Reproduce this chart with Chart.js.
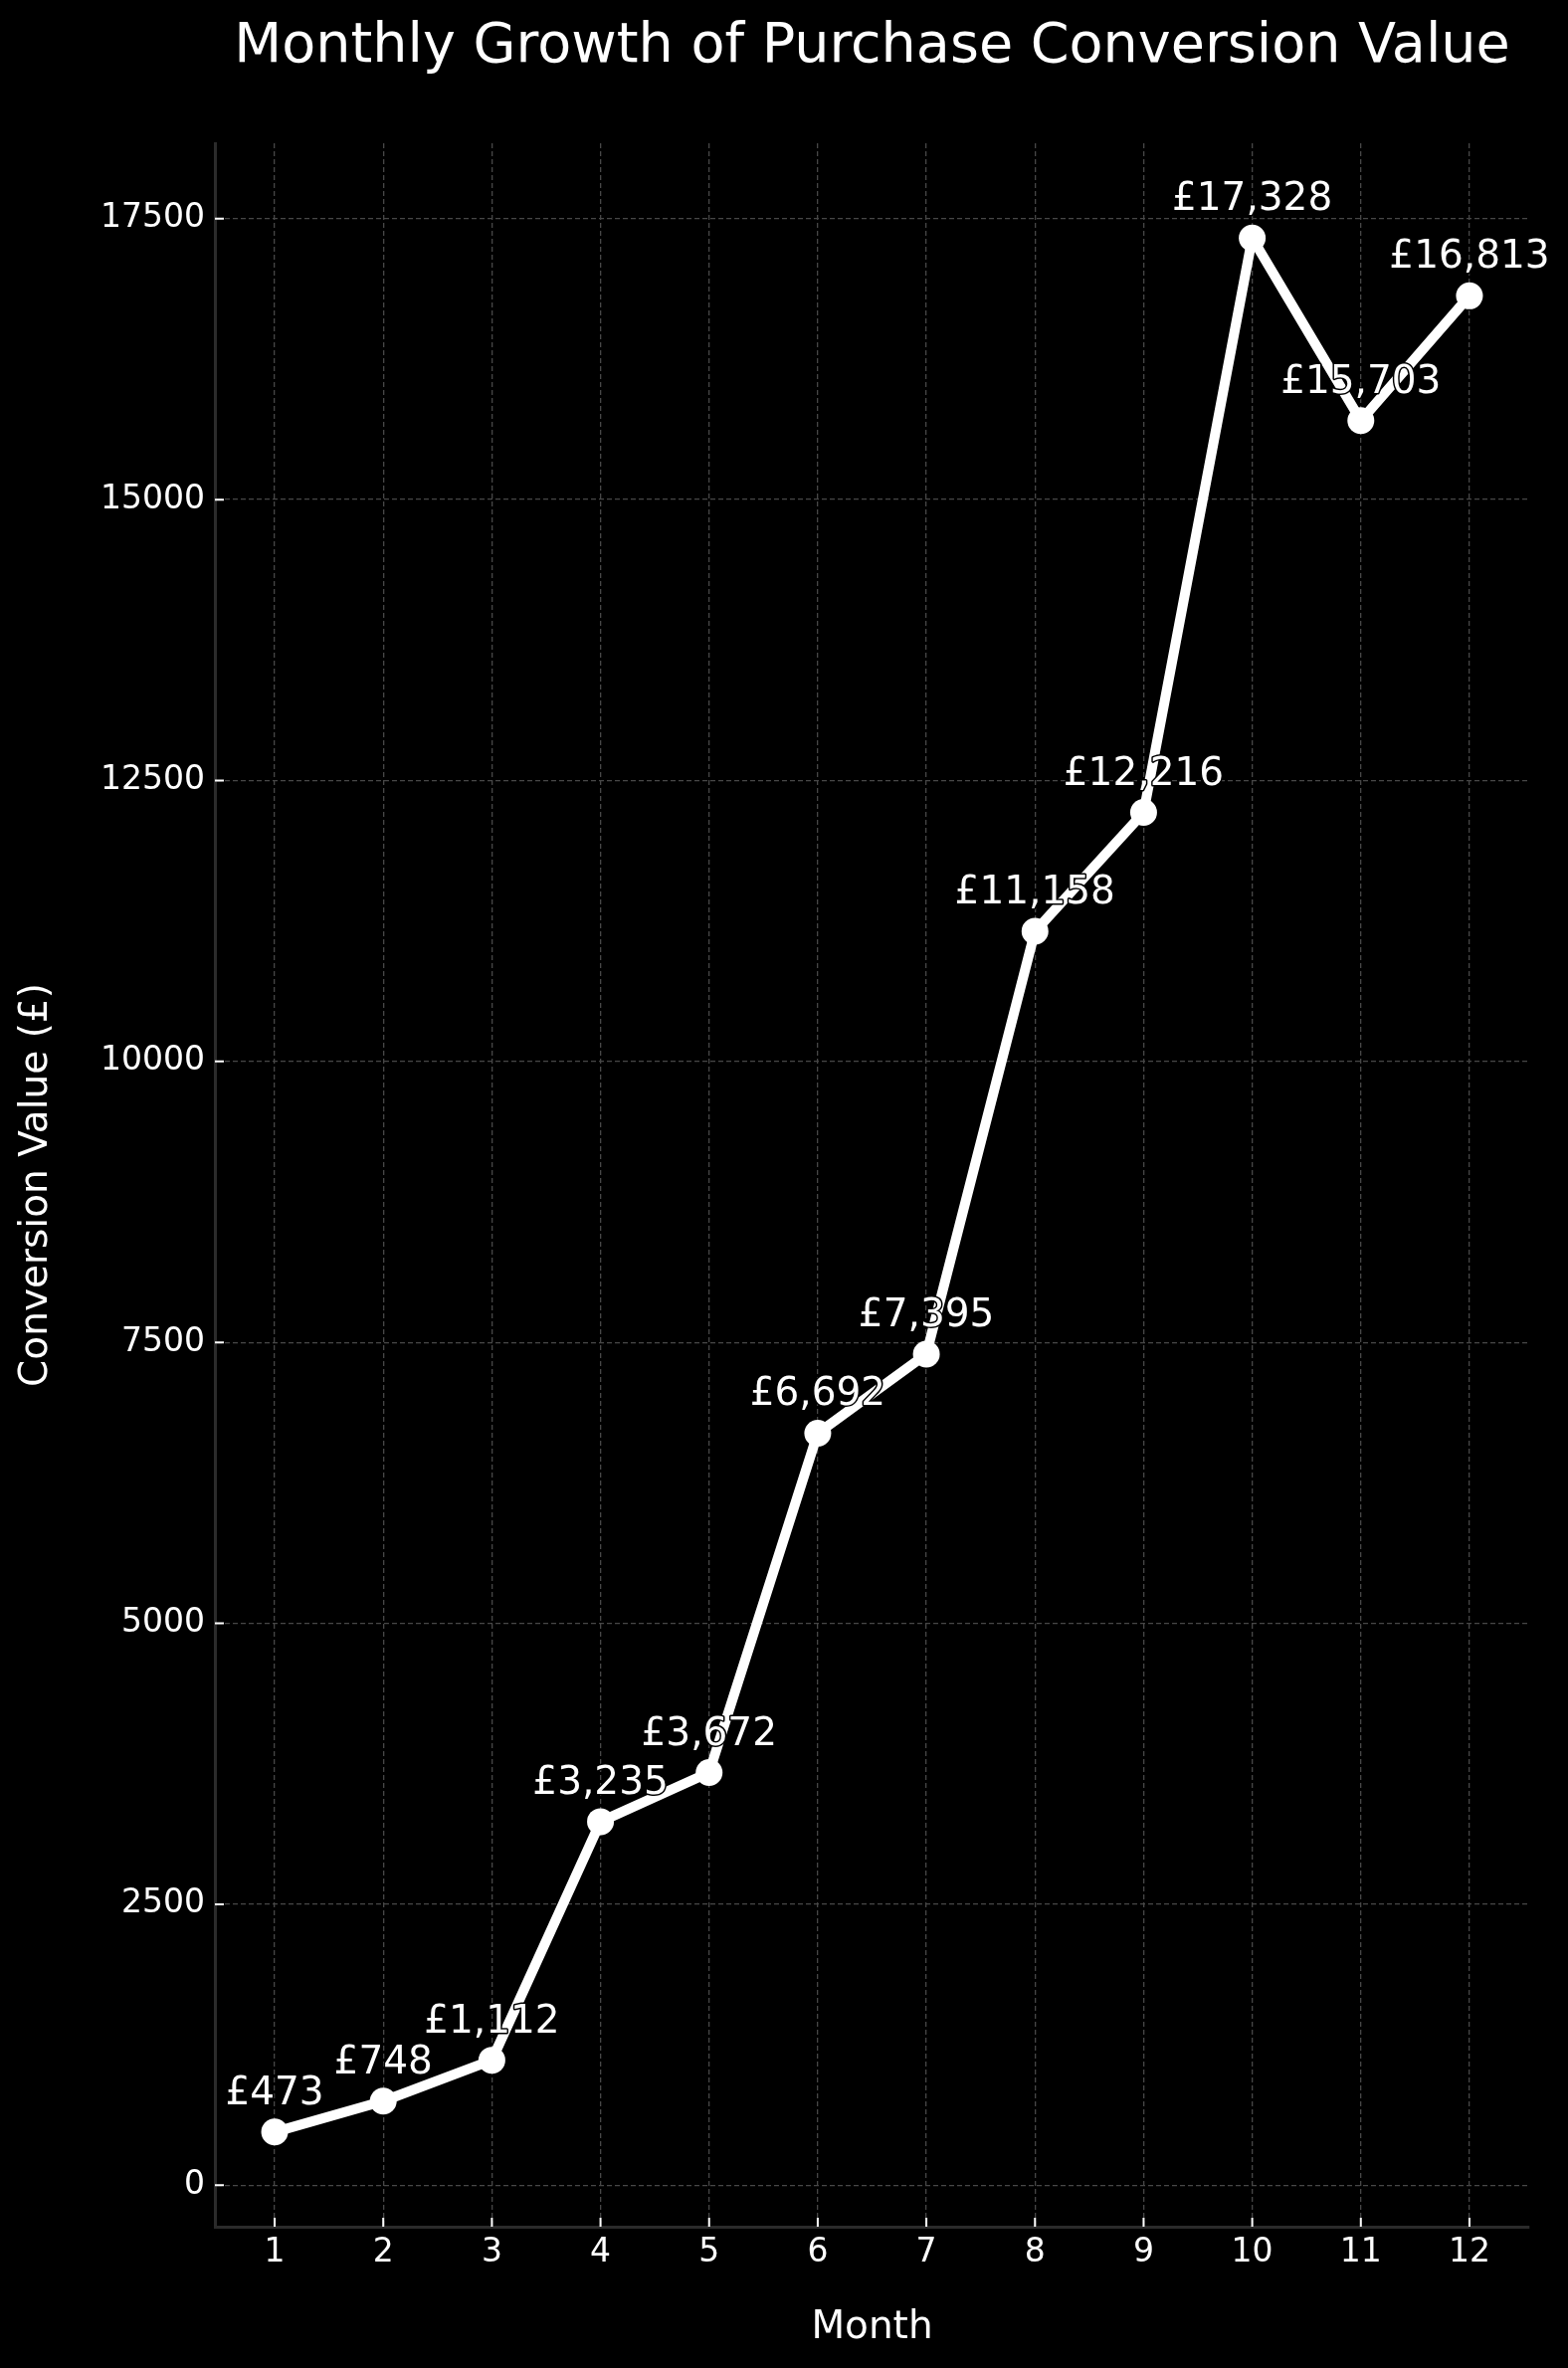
<!DOCTYPE html>
<html>
<head>
<meta charset="utf-8">
<title>Monthly Growth of Purchase Conversion Value</title>
<script src="https://cdn.jsdelivr.net/npm/chart.js@4.4.1/dist/chart.umd.min.js"></script>
<style>
  html, body { margin: 0; padding: 0; background: #000; overflow: hidden; }
  #chart { display: block; }
</style>
</head>
<body>
<canvas id="chart" width="1576" height="2380"></canvas>
<script>
// data
const months = [1, 2, 3, 4, 5, 6, 7, 8, 9, 10, 11, 12];
const conversionValues = [473, 748, 1112, 3235, 3672, 6692, 7395, 11158, 12216, 17328, 15703, 16813];
const yTicks = [0, 2500, 5000, 7500, 10000, 12500, 15000, 17500];

const FONT = "'DejaVu Sans', sans-serif";

// padding around data like matplotlib's 5% margins
const yPad = (Math.max(...conversionValues) - Math.min(...conversionValues)) * 0.05;
const xPad = (months[months.length - 1] - months[0]) * 0.05;

// inward tick marks (matplotlib direction='in')
const innerTicks = {
  id: "innerTicks",
  beforeDatasetsDraw(chart) {
    const { ctx, chartArea, scales } = chart;
    ctx.save();
    ctx.strokeStyle = "#ffffff";
    ctx.lineWidth = 2;
    ctx.beginPath();
    months.forEach((m) => {
      const x = scales.x.getPixelForValue(m);
      ctx.moveTo(x, chartArea.bottom);
      ctx.lineTo(x, chartArea.bottom - 9);
    });
    yTicks.forEach((v) => {
      const y = scales.y.getPixelForValue(v);
      ctx.moveTo(chartArea.left, y);
      ctx.lineTo(chartArea.left + 9, y);
    });
    ctx.stroke();
    ctx.restore();
  },
};

// £ labels above each point
const valueLabels = {
  id: "valueLabels",
  afterDatasetsDraw(chart) {
    const { ctx } = chart;
    const meta = chart.getDatasetMeta(0);
    ctx.save();
    ctx.font = "39px " + FONT;
    ctx.textAlign = "center";
    ctx.textBaseline = "alphabetic";
    ctx.lineJoin = "round";
    meta.data.forEach((pt, i) => {
      const txt = "£" + conversionValues[i].toLocaleString("en-GB");
      ctx.strokeStyle = "#000000";
      ctx.lineWidth = 3;
      ctx.strokeText(txt, pt.x, pt.y - 28);
      ctx.fillStyle = "#ffffff";
      ctx.fillText(txt, pt.x, pt.y - 28);
    });
    ctx.restore();
  },
};

const ctx = document.getElementById("chart").getContext("2d");
const chart = new Chart(ctx, {
  type: "line",
  data: {
    datasets: [
      {
        label: "Conversion Value",
        data: months.map((m, i) => ({ x: m, y: conversionValues[i] })),
        borderColor: "#ffffff",
        backgroundColor: "#ffffff",
        borderWidth: 10,
        borderJoinStyle: "round",
        pointRadius: 13.5,
        pointHoverRadius: 13.5,
        pointBorderWidth: 0,
        pointBackgroundColor: "#ffffff",
        tension: 0,
      },
    ],
  },
  options: {
    responsive: false,
    animation: false,
    devicePixelRatio: 1,
    layout: { padding: { left: 0, right: 39, top: 0, bottom: 0 } },
    plugins: {
      legend: { display: false },
      tooltip: { enabled: false },
      title: {
        display: true,
        text: "Monthly Growth of Purchase Conversion Value",
        color: "#ffffff",
        fullSize: false,
        font: { family: FONT, size: 55.6, weight: "normal", lineHeight: 1.2 },
        padding: { top: 14, bottom: 63.3 },
      },
    },
    scales: {
      x: {
        type: "linear",
        min: months[0] - xPad,
        max: months[months.length - 1] + xPad,
        afterBuildTicks: (scale) => {
          scale.ticks = months.map((v) => ({ value: v }));
        },
        afterFit: (scale) => {
          scale.height = 142;
        },
        ticks: {
          color: "#ffffff",
          font: { family: FONT, size: 33 },
          padding: 7,
          maxRotation: 0,
          autoSkip: false,
          callback: (v) => String(v),
        },
        grid: {
          color: "#474747",
          lineWidth: 1.3,
          drawTicks: false,
        },
        border: { display: true, color: "#2b2b2b", width: 3, dash: [5, 3] },
        title: {
          display: true,
          text: "Month",
          color: "#ffffff",
          font: { family: FONT, size: 39 },
          padding: { top: 0, bottom: 17 },
        },
      },
      y: {
        type: "linear",
        min: Math.min(...conversionValues) - yPad,
        max: Math.max(...conversionValues) + yPad,
        afterBuildTicks: (scale) => {
          scale.ticks = yTicks.map((v) => ({ value: v }));
        },
        afterFit: (scale) => {
          scale.width = 216;
        },
        ticks: {
          color: "#ffffff",
          font: { family: FONT, size: 33 },
          padding: 10,
          autoSkip: false,
          callback: (v) => String(v),
        },
        grid: {
          color: "#474747",
          lineWidth: 1.3,
          drawTicks: false,
        },
        border: { display: true, color: "#2b2b2b", width: 3, dash: [5, 3] },
        title: {
          display: true,
          text: "Conversion Value (£)",
          color: "#ffffff",
          font: { family: FONT, size: 39 },
          padding: { top: 13, bottom: 0 },
        },
      },
    },
  },
  plugins: [innerTicks, valueLabels],
});
</script>
</body>
</html>
